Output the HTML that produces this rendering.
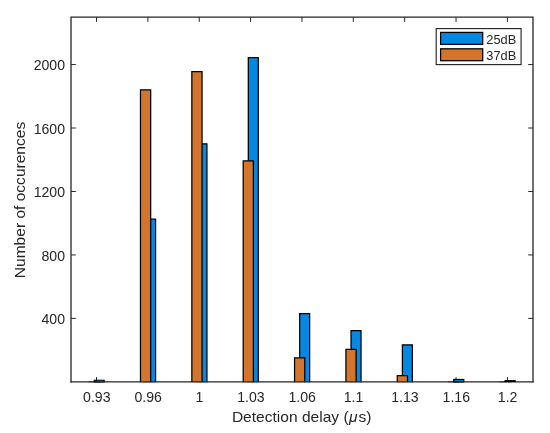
<!DOCTYPE html>
<html><head><meta charset="utf-8"><title>Detection delay histogram</title>
<style>html,body{margin:0;padding:0;background:#fff;}svg{display:block;}text{font-family:"Liberation Sans",Arial,Helvetica,sans-serif;fill:#262626;}</style></head><body>
<svg width="550" height="433" viewBox="0 0 550 433">
<rect x="0" y="0" width="550" height="433" fill="#fff"/>
<g stroke="#262626" stroke-width="1" fill="none">
<path d="M71.00 382.50V17.10H533.00V382.50" stroke-width="1.3" stroke-linejoin="miter"/>
<line x1="96.52" y1="381.85" x2="96.52" y2="377.05"/>
<line x1="96.52" y1="17.10" x2="96.52" y2="21.90"/>
<line x1="147.88" y1="381.85" x2="147.88" y2="377.05"/>
<line x1="147.88" y1="17.10" x2="147.88" y2="21.90"/>
<line x1="199.24" y1="381.85" x2="199.24" y2="377.05"/>
<line x1="199.24" y1="17.10" x2="199.24" y2="21.90"/>
<line x1="250.60" y1="381.85" x2="250.60" y2="377.05"/>
<line x1="250.60" y1="17.10" x2="250.60" y2="21.90"/>
<line x1="301.96" y1="381.85" x2="301.96" y2="377.05"/>
<line x1="301.96" y1="17.10" x2="301.96" y2="21.90"/>
<line x1="353.32" y1="381.85" x2="353.32" y2="377.05"/>
<line x1="353.32" y1="17.10" x2="353.32" y2="21.90"/>
<line x1="404.68" y1="381.85" x2="404.68" y2="377.05"/>
<line x1="404.68" y1="17.10" x2="404.68" y2="21.90"/>
<line x1="456.04" y1="381.85" x2="456.04" y2="377.05"/>
<line x1="456.04" y1="17.10" x2="456.04" y2="21.90"/>
<line x1="507.40" y1="381.85" x2="507.40" y2="377.05"/>
<line x1="507.40" y1="17.10" x2="507.40" y2="21.90"/>
<line x1="71.00" y1="318.39" x2="75.80" y2="318.39"/>
<line x1="533.00" y1="318.39" x2="528.20" y2="318.39"/>
<line x1="71.00" y1="254.93" x2="75.80" y2="254.93"/>
<line x1="533.00" y1="254.93" x2="528.20" y2="254.93"/>
<line x1="71.00" y1="191.47" x2="75.80" y2="191.47"/>
<line x1="533.00" y1="191.47" x2="528.20" y2="191.47"/>
<line x1="71.00" y1="128.01" x2="75.80" y2="128.01"/>
<line x1="533.00" y1="128.01" x2="528.20" y2="128.01"/>
<line x1="71.00" y1="64.55" x2="75.80" y2="64.55"/>
<line x1="533.00" y1="64.55" x2="528.20" y2="64.55"/>
</g>
<g stroke="#000" stroke-width="1.25" stroke-linejoin="miter" stroke-linecap="butt">
<path d="M145.58 382.15V219.15H155.58V382.15" fill="#0388E4"/>
<path d="M196.94 382.15V143.75H206.94V382.15" fill="#0388E4"/>
<path d="M248.30 382.15V57.65H258.30V382.15" fill="#0388E4"/>
<path d="M299.66 382.15V313.65H309.66V382.15" fill="#0388E4"/>
<path d="M351.02 382.15V330.65H361.02V382.15" fill="#0388E4"/>
<path d="M402.38 382.15V344.85H412.38V382.15" fill="#0388E4"/>
<path d="M140.48 382.15V89.75H150.68V382.15" fill="#D4752D"/>
<path d="M191.84 382.15V71.55H202.04V382.15" fill="#D4752D"/>
<path d="M243.20 382.15V160.75H253.40V382.15" fill="#D4752D"/>
<path d="M294.56 382.15V357.95H304.76V382.15" fill="#D4752D"/>
<path d="M345.92 382.15V349.45H356.12V382.15" fill="#D4752D"/>
<path d="M397.28 382.15V375.55H407.48V382.15" fill="#D4752D"/>
</g>
<line x1="70.35" y1="381.95" x2="533.65" y2="381.95" stroke="#262626" stroke-width="1.3"/>
<g stroke="#000" stroke-width="1.25">
<rect x="94.22" y="380.20" width="10.00" height="1.80" fill="#0388E4" stroke-width="1"/>
<rect x="453.74" y="379.50" width="10.00" height="2.40" fill="#0388E4"/>
<rect x="505.10" y="380.70" width="10.00" height="0.70" fill="#0388E4"/>
<line x1="88.62" y1="381.85" x2="99.82" y2="381.85" stroke-opacity="0.4"/>
<line x1="448.14" y1="381.85" x2="459.34" y2="381.85" stroke-opacity="0.4"/>
<line x1="499.50" y1="381.85" x2="510.70" y2="381.85" stroke-opacity="0.4"/>
</g>
<g font-size="14.1px">
<text x="96.77" y="402.0" text-anchor="middle">0.93</text>
<text x="148.13" y="402.0" text-anchor="middle">0.96</text>
<text x="199.49" y="402.0" text-anchor="middle">1</text>
<text x="250.85" y="402.0" text-anchor="middle">1.03</text>
<text x="302.21" y="402.0" text-anchor="middle">1.06</text>
<text x="353.57" y="402.0" text-anchor="middle">1.1</text>
<text x="404.93" y="402.0" text-anchor="middle">1.13</text>
<text x="456.29" y="402.0" text-anchor="middle">1.16</text>
<text x="507.65" y="402.0" text-anchor="middle">1.2</text>
<text x="65.0" y="324.29" text-anchor="end">400</text>
<text x="65.0" y="260.83" text-anchor="end">800</text>
<text x="65.0" y="197.37" text-anchor="end">1200</text>
<text x="65.0" y="133.91" text-anchor="end">1600</text>
<text x="65.0" y="70.45" text-anchor="end">2000</text>
</g>
<text x="231.9" y="421.6" font-size="15.55px">Detection delay (<tspan font-style="italic" dx="0.5">μ</tspan><tspan dx="0.9">s)</tspan></text>
<text transform="translate(25.2,200.0) rotate(-90)" font-size="15.55px" text-anchor="middle">Number of occurences</text>
<rect x="436.2" y="28.6" width="84.9" height="36" fill="#fff" stroke="#262626" stroke-width="1.15"/>
<rect x="440.6" y="32.4" width="42.1" height="12.0" fill="#0388E4" stroke="#000" stroke-width="1.25"/>
<rect x="440.6" y="48.8" width="42.1" height="11.9" fill="#D4752D" stroke="#000" stroke-width="1.25"/>
<text x="486.3" y="43.8" font-size="12.8px">25dB</text>
<text x="486.3" y="59.8" font-size="12.8px">37dB</text>
</svg></body></html>
